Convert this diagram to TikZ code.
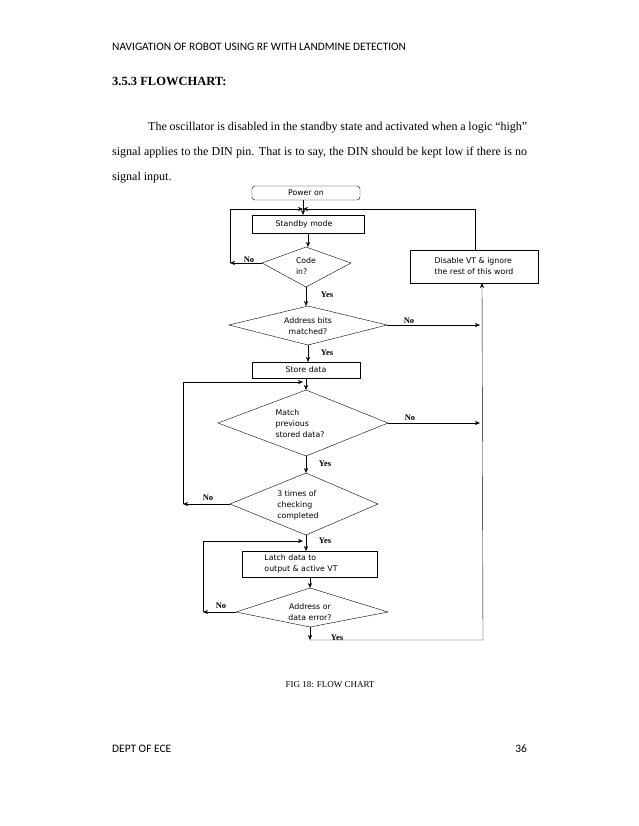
\documentclass[tikz,border=0pt]{standalone}
\usepackage{fontspec}
\setmainfont{Liberation Serif}
\newfontfamily\calib{Carlito}
\newfontfamily\fsans{DejaVu Sans}
\usetikzlibrary{arrows.meta}
\begin{document}
\begin{tikzpicture}[x=1pt,y=-1pt,
  lbl/.style={font=\bfseries\fontsize{8.5}{10}\selectfont},
  txt/.style={font=\fsans\fontsize{7.8}{11}\selectfont,align=left},
  ar/.style={-{Stealth[length=5pt,width=4pt]}},
  ln/.style={thin}]
\useasboundingbox[fill=white] (0,0) rectangle (638,826);
\node[anchor=west,inner sep=0pt,font=\calib\fontsize{11.4}{13}\selectfont] (hdr) at (112,47) {NAVIGATION OF ROBOT USING RF WITH LANDMINE DETECTION};
\node[anchor=west,inner sep=0pt,font=\bfseries\fontsize{12.5}{15}\selectfont] (sec) at (112,81) {3.5.3 FLOWCHART:};
\node[anchor=north west,text width=415pt,align=justify,inner sep=0pt,font=\fontsize{12}{25}\selectfont] (par) at (112,122)
 {\hspace*{36pt}The oscillator is disabled in the standby state and activated when a logic ``high'' signal applies to the DIN pin. That is to say, the DIN should be kept low if there is no signal input.};
% boxes
\draw[ln,rounded corners=3pt] (252,186) rectangle (360,200);
\node[font=\fsans\fontsize{7.8}{9}\selectfont] (pw) at (306,193) {Power on};
\draw[ln] (252,215) rectangle (364,233);
\node[font=\fsans\fontsize{7.8}{9}\selectfont] (sb) at (304,224) {Standby mode};
\draw[ln] (410,250) rectangle (538,283);
\node[txt] (dis) at (474,266) {Disable VT \& ignore\\the rest of this word};
\draw[ln] (252,362) rectangle (360,378);
\node[font=\fsans\fontsize{7.8}{9}\selectfont] (st) at (306,370) {Store data};
\draw[ln] (242,551) rectangle (377,577);
\node[txt] (la) at (301,564) {Latch data to\\output \& active VT};
% diamonds
\draw[ln] (306,247) -- (351,263) -- (306,287) -- (262,263) -- cycle;
\node[txt] (ci) at (306,266) {Code\\in?};
\draw[ln] (308,306) -- (387,325) -- (308,345) -- (229,325) -- cycle;
\node[txt,align=center] (ad) at (308,326) {Address bits\\matched?};
\draw[ln] (306,390) -- (388,423) -- (306,456) -- (218,423) -- cycle;
\node[txt] (mt) at (300,424) {Match\\previous\\stored data?};
\draw[ln] (306,473) -- (378,504) -- (306,535) -- (230,504) -- cycle;
\node[txt] (th) at (298,505) {3 times of\\checking\\completed};
\draw[ln] (310,588) -- (388,612) -- (310,627) -- (236,612) -- cycle;
\node[txt,align=center] (er) at (310,612) {Address or\\data error?};
% connectors
\coordinate (j1) at (303,209);
\coordinate (j2) at (303,382);
\coordinate (j3) at (303,541);
\draw[ln,ar] (303,200) -- (303,215);
\draw[ln,ar] (308,233) -- (308,247);
\draw[ln,ar] (262,263) -- (230,263);
\draw[ln,ar] (230,263) -- (230,209) -- (j1);
\draw[ln,ar] (475,250) -- (475,209) -- (j1);
\draw[ln,ar] (306,287) -- (306,306);
\draw[ln,ar] (387,325) -- (480,325);
\draw[ln,ar] (308,345) -- (308,362);
\draw[ln,ar] (306,378) -- (306,390);
\draw[ln,ar] (388,423) -- (480,423);
\draw[ln,ar] (306,456) -- (306,473);
\draw[ln,ar] (230,504) -- (183,504);
\draw[ln,ar] (183,504) -- (183,382) -- (j2);
\draw[ln,ar] (306,535) -- (306,551);
\draw[ln,ar] (310,577) -- (310,588);
\draw[ln,ar] (236,612) -- (203,612);
\draw[ln,ar] (203,612) -- (203,541) -- (j3);
\draw[ln,ar] (310,627) -- (310,640);
\draw[ln,ar] (310,640) -- (483,640) -- (482,283);
% labels
\node[lbl] (n1) at (249,260) {No};
\node[lbl] (y1) at (327,295) {Yes};
\node[lbl] (n2) at (409,321) {No};
\node[lbl] (y2) at (327,353) {Yes};
\node[lbl] (n3) at (410,418) {No};
\node[lbl] (y3) at (325,464) {Yes};
\node[lbl] (n4) at (208,498) {No};
\node[lbl] (y4) at (325,541) {Yes};
\node[lbl] (n5) at (221,606) {No};
\node[lbl] (y5) at (337,638) {Yes};
\node[font=\fontsize{9}{11}\selectfont] (cap) at (330,685) {FIG 18: FLOW CHART};
\node[anchor=west,inner sep=0pt,font=\calib\fontsize{11.4}{13}\selectfont] (ft) at (112,749) {DEPT OF ECE};
\node[anchor=east,inner sep=0pt,font=\calib\fontsize{11.4}{13}\selectfont] (pg) at (527,749) {36};
\end{tikzpicture}
\end{document}
